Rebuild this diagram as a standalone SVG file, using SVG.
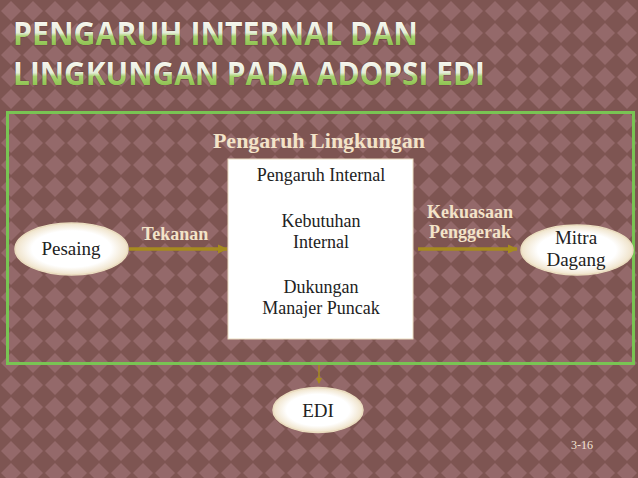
<svg xmlns="http://www.w3.org/2000/svg" width="638" height="478" viewBox="0 0 638 478">
<defs>
<pattern id="bg" x="0" y="0" width="22" height="22" patternUnits="userSpaceOnUse">
<rect width="22" height="22" fill="#7e5552"/>
<path d="M11 1 L21 11 L11 21 L1 11 Z" fill="#94696a"/>
</pattern>
<linearGradient id="t1" gradientUnits="userSpaceOnUse" x1="0" y1="22" x2="0" y2="46">
<stop offset="0" stop-color="#f6f6ee"/>
<stop offset="0.45" stop-color="#e4ecd8"/>
<stop offset="0.6" stop-color="#a8d270"/>
<stop offset="1" stop-color="#8cc24e"/>
</linearGradient>
<linearGradient id="t2" gradientUnits="userSpaceOnUse" x1="0" y1="62" x2="0" y2="86">
<stop offset="0" stop-color="#f6f6ee"/>
<stop offset="0.45" stop-color="#e4ecd8"/>
<stop offset="0.6" stop-color="#a8d270"/>
<stop offset="1" stop-color="#8cc24e"/>
</linearGradient>
<radialGradient id="ell" cx="0.5" cy="0.5" r="0.5">
<stop offset="0.7" stop-color="#ffffff"/>
<stop offset="1" stop-color="#efe2c8"/>
</radialGradient>
<marker id="ah" markerWidth="10" markerHeight="10" refX="9" refY="5" orient="auto" markerUnits="userSpaceOnUse">
<path d="M0 0.5 L10 5 L0 9.5 Z" fill="#a68b1f"/>
</marker>
<marker id="ahs" markerWidth="6" markerHeight="6" refX="5" refY="3" orient="auto" markerUnits="userSpaceOnUse">
<path d="M0 0 L6 3 L0 6 Z" fill="#a68b1f"/>
</marker>
</defs>
<style>
.title{font-family:"Open Sans","Noto Sans",sans-serif;font-weight:bold;font-size:32px;stroke:#5a3a36;stroke-width:0.6;paint-order:stroke}
.lbl{font-family:"Liberation Serif",serif;font-weight:bold;fill:#f3e3c8;text-anchor:middle}
.txt{font-family:"Liberation Serif",serif;fill:#222;text-anchor:middle}
.node{fill:url(#ell);stroke:#eadcbf;stroke-width:1.5}
.arrow{stroke:#a68b1f;fill:none}
</style>
<rect width="638" height="478" fill="url(#bg)"/>
<text class="title" x="13" y="45" fill="url(#t1)" textLength="405" lengthAdjust="spacingAndGlyphs">PENGARUH INTERNAL DAN</text>
<text class="title" x="13" y="85" fill="url(#t2)" textLength="472" lengthAdjust="spacingAndGlyphs">LINGKUNGAN PADA ADOPSI EDI</text>
<rect x="7.5" y="112.5" width="626" height="251" fill="none" stroke="#79c453" stroke-width="3"/>
<text class="lbl" x="319" y="148" font-size="22">Pengaruh Lingkungan</text>
<g id="connectors">
<line class="arrow" x1="129" y1="249" x2="227" y2="249" stroke-width="3.5" marker-end="url(#ah)"/>
<line class="arrow" x1="418" y1="249" x2="517" y2="249" stroke-width="3.5" marker-end="url(#ah)"/>
<line class="arrow" x1="319" y1="365" x2="319" y2="383" stroke-width="1.5" marker-end="url(#ahs)"/>
<text class="lbl" x="175" y="240" font-size="18">Tekanan</text>
<text class="lbl" x="470" y="218" font-size="18">Kekuasaan</text>
<text class="lbl" x="470" y="238" font-size="18">Penggerak</text>
</g>
<g id="internal">
<rect x="228" y="159" width="185" height="180" fill="#ffffff" stroke="#eadcbf" stroke-width="1"/>
<text class="txt" x="321" y="181" font-size="18">Pengaruh Internal</text>
<text class="txt" x="321" y="227" font-size="18">Kebutuhan</text>
<text class="txt" x="321" y="248" font-size="18">Internal</text>
<text class="txt" x="321" y="293" font-size="18">Dukungan</text>
<text class="txt" x="321" y="314" font-size="18">Manajer Puncak</text>
</g>
<g id="pesaing">
<ellipse class="node" cx="71.5" cy="249" rx="56.5" ry="26"/>
<text class="txt" x="71" y="255" font-size="19">Pesaing</text>
</g>
<g id="mitra">
<ellipse class="node" cx="577" cy="250" rx="56" ry="25"/>
<text class="txt" x="576" y="244" font-size="19">Mitra</text>
<text class="txt" x="576" y="266" font-size="19">Dagang</text>
</g>
<g id="edi">
<ellipse class="node" cx="318" cy="410" rx="45" ry="22.5"/>
<text class="txt" x="318" y="417" font-size="19">EDI</text>
</g>
<text x="582" y="449" font-family="Liberation Serif,serif" font-size="12" fill="#f3e3d4" text-anchor="middle">3-16</text>
</svg>
